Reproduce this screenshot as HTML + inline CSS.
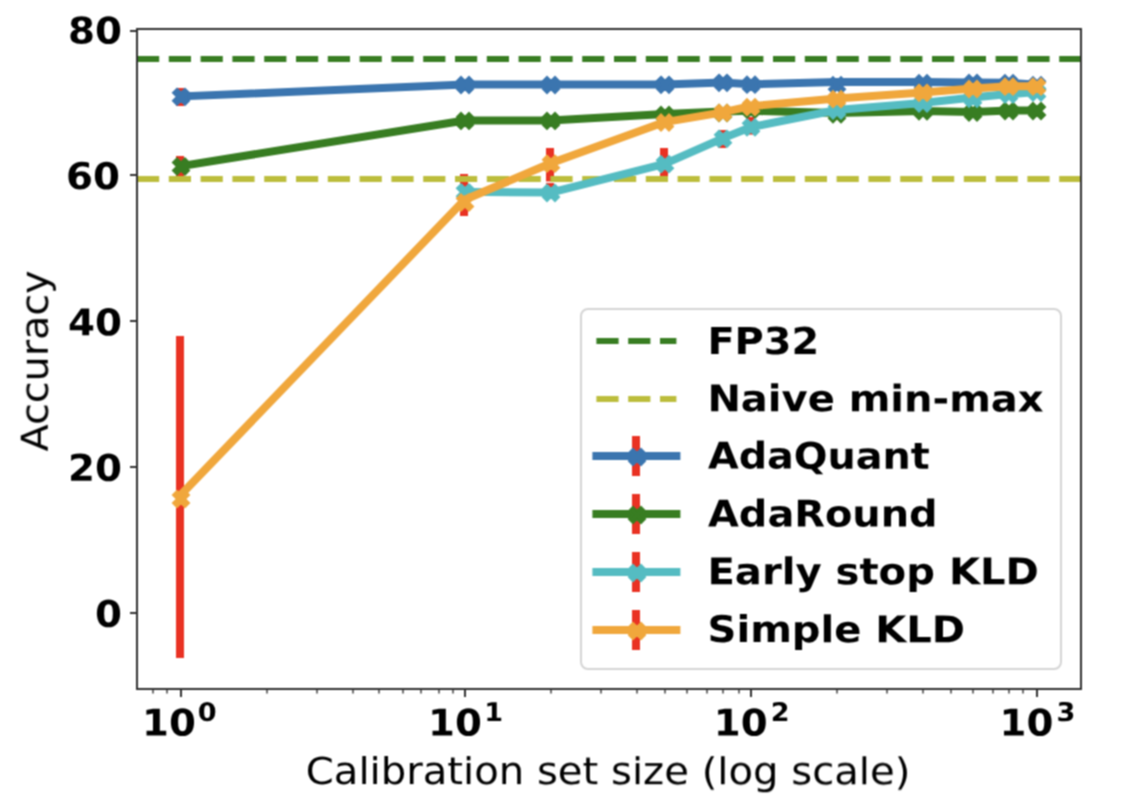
<!DOCTYPE html>
<html lang="en"><head><meta charset="utf-8"><title>Accuracy vs calibration set size</title>
<style>
html,body{margin:0;padding:0;background:#fff;}
body{width:1122px;height:812px;overflow:hidden;}
svg{display:block;}
text{font-family:"DejaVu Sans","Liberation Sans",sans-serif;fill:#000;}
.b{font-weight:bold;}
</style></head><body>
<svg width="1122" height="812" viewBox="0 0 1122 812" role="img" aria-label="Accuracy versus calibration set size">
<defs>
<filter id="f3" x="0" y="0" width="1122" height="812" filterUnits="userSpaceOnUse" color-interpolation-filters="sRGB"><feConvolveMatrix order="3" kernelMatrix="1 2 1 2 4 2 1 2 1" edgeMode="duplicate" preserveAlpha="false"/></filter>
<filter id="f5" x="0" y="0" width="1122" height="812" filterUnits="userSpaceOnUse" color-interpolation-filters="sRGB"><feConvolveMatrix order="3" kernelMatrix="1 2 1 2 4 2 1 2 1" edgeMode="duplicate" preserveAlpha="false"/></filter>
<clipPath id="ax"><rect x="137.0" y="29.0" width="944.0" height="660.0"/></clipPath>
<path id="mx" d="M-4,-8 L0,-4 L4,-8 L8,-4 L4,0 L8,4 L4,8 L0,4 L-4,8 L-8,4 L-4,0 L-8,-4 Z" stroke-width="2" stroke-linejoin="miter"/>
</defs>
<g filter="url(#f3)">
<rect x="0" y="0" width="1122" height="812" fill="#fff"/>
<g clip-path="url(#ax)">
<g stroke="#e93223" stroke-width="8" stroke-linecap="butt">
<line x1="180.0" y1="88.0" x2="180.0" y2="106.0"/>
<line x1="180.0" y1="156.0" x2="180.0" y2="176.0"/>
<line x1="180.0" y1="336.0" x2="180.0" y2="658.0"/>
<line x1="464.0" y1="174.0" x2="464.0" y2="216.0"/>
<line x1="550.0" y1="148.0" x2="550.0" y2="181.5"/>
<line x1="550.0" y1="183.0" x2="550.0" y2="199.0"/>
<line x1="664.0" y1="148.0" x2="664.0" y2="180.0"/>
<line x1="722.0" y1="130.0" x2="722.0" y2="148.0"/>
<line x1="750.0" y1="117.0" x2="750.0" y2="134.6"/>
</g>
<line x1="137.0" y1="59.0" x2="1081.0" y2="59.0" stroke="#387d22" stroke-width="6" stroke-dasharray="22.2 9.6"/>
<line x1="137.0" y1="179.0" x2="1081.0" y2="179.0" stroke="#bcbd3c" stroke-width="6" stroke-dasharray="22.2 9.6"/>
<polyline points="180.6,96.4 464.6,84.6 550.6,84.6 664.6,84.4 722.6,82.4 750.6,84.3 836.6,81.9 922.6,81.9 972.6,82.6 1008.6,82.7 1036.6,84.8" fill="none" stroke="#3b75af" stroke-width="8" stroke-linejoin="round" stroke-linecap="square"/>
<g fill="#3b75af" stroke="#3b75af">
<use href="#mx" x="181.0" y="96.8"/>
<use href="#mx" x="465.0" y="85.0"/>
<use href="#mx" x="551.0" y="85.0"/>
<use href="#mx" x="665.0" y="84.8"/>
<use href="#mx" x="723.0" y="82.8"/>
<use href="#mx" x="751.0" y="84.7"/>
<use href="#mx" x="837.0" y="85.2"/>
<use href="#mx" x="923.0" y="83.2"/>
<use href="#mx" x="973.0" y="83.0"/>
<use href="#mx" x="1009.0" y="83.1"/>
<use href="#mx" x="1037.0" y="85.2"/>
</g>
<polyline points="180.6,166.1 464.6,120.5 550.6,120.5 664.6,114.0 722.6,111.5 750.6,110.8 836.6,113.0 922.6,110.9 972.6,112.1 1008.6,110.6 1036.6,110.6" fill="none" stroke="#387d22" stroke-width="8" stroke-linejoin="round" stroke-linecap="square"/>
<g fill="#387d22" stroke="#387d22">
<use href="#mx" x="181.0" y="166.5"/>
<use href="#mx" x="465.0" y="120.9"/>
<use href="#mx" x="551.0" y="120.9"/>
<use href="#mx" x="665.0" y="115.0"/>
<use href="#mx" x="723.0" y="113.0"/>
<use href="#mx" x="751.0" y="109.7"/>
<use href="#mx" x="837.0" y="114.3"/>
<use href="#mx" x="923.0" y="111.3"/>
<use href="#mx" x="973.0" y="112.5"/>
<use href="#mx" x="1009.0" y="111.0"/>
<use href="#mx" x="1037.0" y="111.0"/>
</g>
<polyline points="464.6,191.9 550.6,192.6 664.6,163.8 722.6,138.4 750.6,127.2 836.6,110.0 922.6,103.1 972.6,97.6 1008.6,94.1 1036.6,92.1" fill="none" stroke="#55bcc2" stroke-width="8" stroke-linejoin="round" stroke-linecap="square"/>
<g fill="#55bcc2" stroke="#55bcc2">
<use href="#mx" x="465.0" y="192.3"/>
<use href="#mx" x="551.0" y="193.0"/>
<use href="#mx" x="665.0" y="164.2"/>
<use href="#mx" x="723.0" y="138.8"/>
<use href="#mx" x="751.0" y="127.3"/>
<use href="#mx" x="837.0" y="110.5"/>
<use href="#mx" x="923.0" y="103.5"/>
<use href="#mx" x="973.0" y="98.8"/>
<use href="#mx" x="1009.0" y="94.5"/>
<use href="#mx" x="1037.0" y="92.5"/>
</g>
<polyline points="180.6,495.1 464.6,199.7 550.6,163.3 664.6,122.1 722.6,112.4 750.6,106.2 836.6,98.5 922.6,92.4 972.6,88.6 1008.6,86.3 1036.6,86.3" fill="none" stroke="#f0a73c" stroke-width="8" stroke-linejoin="round" stroke-linecap="square"/>
<g fill="#f0a73c" stroke="#f0a73c">
<use href="#mx" x="181.0" y="499.0"/>
<use href="#mx" x="465.0" y="202.5"/>
<use href="#mx" x="551.0" y="163.7"/>
<use href="#mx" x="665.0" y="122.5"/>
<use href="#mx" x="723.0" y="112.8"/>
<use href="#mx" x="751.0" y="107.2"/>
<use href="#mx" x="837.0" y="99.2"/>
<use href="#mx" x="923.0" y="92.8"/>
<use href="#mx" x="973.0" y="89.0"/>
<use href="#mx" x="1009.0" y="86.7"/>
<use href="#mx" x="1037.0" y="86.7"/>
</g>
</g>
<rect x="137.0" y="29.0" width="944.0" height="660.0" fill="none" stroke="#303030" stroke-width="2"/>
<g stroke="#303030" stroke-width="2">
<line x1="130" y1="31.0" x2="137" y2="31.0"/>
<line x1="130" y1="175.0" x2="137" y2="175.0"/>
<line x1="130" y1="321.0" x2="137" y2="321.0"/>
<line x1="130" y1="467.0" x2="137" y2="467.0"/>
<line x1="130" y1="613.0" x2="137" y2="613.0"/>
<line x1="181.0" y1="689" x2="181.0" y2="697"/>
<line x1="465.0" y1="689" x2="465.0" y2="697"/>
<line x1="751.0" y1="689" x2="751.0" y2="697"/>
<line x1="1037.0" y1="689" x2="1037.0" y2="697"/>
</g>
<g stroke="#303030" stroke-width="2" stroke-opacity="0.7">
<line x1="153.0" y1="689" x2="153.0" y2="693.5"/>
<line x1="167.0" y1="689" x2="167.0" y2="693.5"/>
<line x1="267.0" y1="689" x2="267.0" y2="693.5"/>
<line x1="317.0" y1="689" x2="317.0" y2="693.5"/>
<line x1="353.0" y1="689" x2="353.0" y2="693.5"/>
<line x1="379.0" y1="689" x2="379.0" y2="693.5"/>
<line x1="403.0" y1="689" x2="403.0" y2="693.5"/>
<line x1="421.0" y1="689" x2="421.0" y2="693.5"/>
<line x1="439.0" y1="689" x2="439.0" y2="693.5"/>
<line x1="453.0" y1="689" x2="453.0" y2="693.5"/>
<line x1="551.0" y1="689" x2="551.0" y2="693.5"/>
<line x1="601.0" y1="689" x2="601.0" y2="693.5"/>
<line x1="637.0" y1="689" x2="637.0" y2="693.5"/>
<line x1="665.0" y1="689" x2="665.0" y2="693.5"/>
<line x1="687.0" y1="689" x2="687.0" y2="693.5"/>
<line x1="707.0" y1="689" x2="707.0" y2="693.5"/>
<line x1="723.0" y1="689" x2="723.0" y2="693.5"/>
<line x1="739.0" y1="689" x2="739.0" y2="693.5"/>
<line x1="837.0" y1="689" x2="837.0" y2="693.5"/>
<line x1="887.0" y1="689" x2="887.0" y2="693.5"/>
<line x1="923.0" y1="689" x2="923.0" y2="693.5"/>
<line x1="951.0" y1="689" x2="951.0" y2="693.5"/>
<line x1="973.0" y1="689" x2="973.0" y2="693.5"/>
<line x1="993.0" y1="689" x2="993.0" y2="693.5"/>
<line x1="1009.0" y1="689" x2="1009.0" y2="693.5"/>
<line x1="1023.0" y1="689" x2="1023.0" y2="693.5"/>
</g>
<rect x="581.0" y="309.0" width="480.0" height="360.0" rx="7" ry="7" fill="#fff" fill-opacity="0.8" stroke="#d4d4d4" stroke-width="2"/>
<line x1="596.4" y1="341.0" x2="676.4" y2="341.0" stroke="#387d22" stroke-width="6" stroke-dasharray="22.2 9.6"/>
<line x1="596.4" y1="399.0" x2="676.4" y2="399.0" stroke="#bcbd3c" stroke-width="6" stroke-dasharray="22.2 9.6"/>
<line x1="636.0" y1="436.0" x2="636.0" y2="476.0" stroke="#e93223" stroke-width="8"/>
<line x1="596.4" y1="456.0" x2="676.4" y2="456.0" stroke="#3b75af" stroke-width="8" stroke-linecap="square"/>
<use href="#mx" x="637.0" y="457.0" fill="#3b75af" stroke="#3b75af"/>
<line x1="636.0" y1="494.0" x2="636.0" y2="534.0" stroke="#e93223" stroke-width="8"/>
<line x1="596.4" y1="514.0" x2="676.4" y2="514.0" stroke="#387d22" stroke-width="8" stroke-linecap="square"/>
<use href="#mx" x="637.0" y="515.0" fill="#387d22" stroke="#387d22"/>
<line x1="636.0" y1="552.0" x2="636.0" y2="592.0" stroke="#e93223" stroke-width="8"/>
<line x1="596.4" y1="572.0" x2="676.4" y2="572.0" stroke="#55bcc2" stroke-width="8" stroke-linecap="square"/>
<use href="#mx" x="637.0" y="573.0" fill="#55bcc2" stroke="#55bcc2"/>
<line x1="636.0" y1="610.0" x2="636.0" y2="650.0" stroke="#e93223" stroke-width="8"/>
<line x1="596.4" y1="630.0" x2="676.4" y2="630.0" stroke="#f0a73c" stroke-width="8" stroke-linecap="square"/>
<use href="#mx" x="637.0" y="631.0" fill="#f0a73c" stroke="#f0a73c"/>
</g>
<g filter="url(#f5)">
<text x="122.00" y="43.60" transform="rotate(0.03,122.00,43.60)" font-size="36.80" class="b" text-anchor="end" textLength="53.91" lengthAdjust="spacingAndGlyphs">80</text>
<text x="120.00" y="189.10" transform="rotate(0.03,120.00,189.10)" font-size="36.80" class="b" text-anchor="end" textLength="53.91" lengthAdjust="spacingAndGlyphs">60</text>
<text x="122.00" y="335.30" transform="rotate(0.03,122.00,335.30)" font-size="36.80" class="b" text-anchor="end" textLength="53.91" lengthAdjust="spacingAndGlyphs">40</text>
<text x="122.00" y="480.80" transform="rotate(0.03,122.00,480.80)" font-size="36.80" class="b" text-anchor="end" textLength="53.91" lengthAdjust="spacingAndGlyphs">20</text>
<text x="122.00" y="626.80" transform="rotate(0.03,122.00,626.80)" font-size="36.80" class="b" text-anchor="end" textLength="26.95" lengthAdjust="spacingAndGlyphs">0</text>
<text x="142.00" y="735.50" transform="rotate(0.03,142.00,735.50)" font-size="36.80" class="b" textLength="53.82" lengthAdjust="spacingAndGlyphs">10</text>
<text x="197.70" y="721.10" transform="rotate(0.03,197.70,721.10)" font-size="25.76" class="b" textLength="18.84" lengthAdjust="spacingAndGlyphs">0</text>
<text x="428.10" y="735.50" transform="rotate(0.03,428.10,735.50)" font-size="36.80" class="b" textLength="53.82" lengthAdjust="spacingAndGlyphs">10</text>
<text x="484.20" y="721.10" transform="rotate(0.03,484.20,721.10)" font-size="25.76" class="b" textLength="18.84" lengthAdjust="spacingAndGlyphs">1</text>
<text x="713.80" y="735.50" transform="rotate(0.03,713.80,735.50)" font-size="36.80" class="b" textLength="53.82" lengthAdjust="spacingAndGlyphs">10</text>
<text x="770.70" y="721.10" transform="rotate(0.03,770.70,721.10)" font-size="25.76" class="b" textLength="18.84" lengthAdjust="spacingAndGlyphs">2</text>
<text x="999.60" y="735.50" transform="rotate(0.03,999.60,735.50)" font-size="36.80" class="b" textLength="53.82" lengthAdjust="spacingAndGlyphs">10</text>
<text x="1056.40" y="721.10" transform="rotate(0.03,1056.40,721.10)" font-size="25.76" class="b" textLength="18.84" lengthAdjust="spacingAndGlyphs">3</text>
<text x="305.80" y="783.70" transform="rotate(0.03,305.80,783.70)" font-size="36.80" textLength="604.53" lengthAdjust="spacingAndGlyphs">Calibration set size (log scale)</text>
<text transform="translate(47.80,360.90) rotate(-89.97)" font-size="36.80" text-anchor="middle" textLength="181.10" lengthAdjust="spacingAndGlyphs">Accuracy</text>
<text x="707.40" y="353.50" transform="rotate(0.03,707.40,353.50)" font-size="36.80" class="b" textLength="111.80" lengthAdjust="spacingAndGlyphs">FP32</text>
<text x="707.40" y="411.30" transform="rotate(0.03,707.40,411.30)" font-size="36.80" class="b" textLength="336.21" lengthAdjust="spacingAndGlyphs">Naive min-max</text>
<text x="708.00" y="468.60" transform="rotate(0.03,708.00,468.60)" font-size="36.80" class="b" textLength="221.80" lengthAdjust="spacingAndGlyphs">AdaQuant</text>
<text x="708.00" y="526.40" transform="rotate(0.03,708.00,526.40)" font-size="36.80" class="b" textLength="229.64" lengthAdjust="spacingAndGlyphs">AdaRound</text>
<text x="707.40" y="584.20" transform="rotate(0.03,707.40,584.20)" font-size="36.80" class="b" textLength="331.47" lengthAdjust="spacingAndGlyphs">Early stop KLD</text>
<text x="707.60" y="642.10" transform="rotate(0.03,707.60,642.10)" font-size="36.80" class="b" textLength="257.51" lengthAdjust="spacingAndGlyphs">Simple KLD</text>
</g>
</svg>
</body></html>
